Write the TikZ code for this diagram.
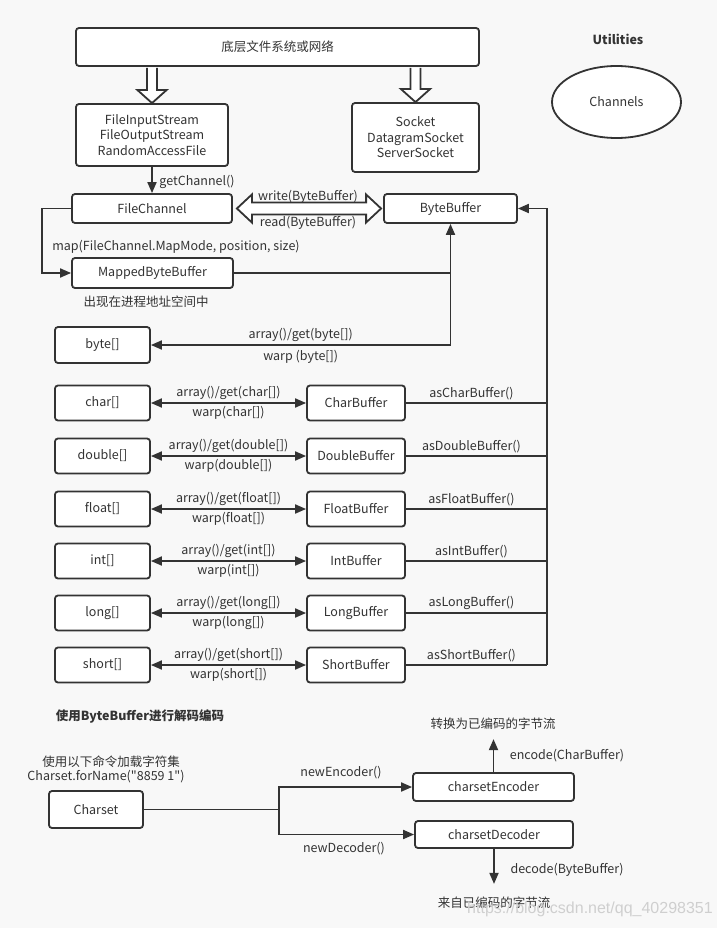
\documentclass[tikz,border=0pt]{standalone}
\usepackage{fontspec}
\setmainfont{Noto Sans CJK SC}[Ligatures=TeXOff]
\newfontfamily\wmfont{Liberation Sans}
\usetikzlibrary{arrows.meta,calc,shapes.geometric}
\definecolor{ink}{HTML}{333333}
\definecolor{bg}{HTML}{F8F8F8}
\definecolor{wmc}{HTML}{CFCFCF}
\begin{document}
\begin{tikzpicture}[x=1pt,y=-1pt,
  font=\fontsize{12.5}{15.5}\selectfont, text=ink,
  box/.style={draw=ink, line width=1.8pt, fill=white, rounded corners=3pt, align=center, inner sep=0pt},
  conn/.style={draw=ink, line width=1.8pt},
  tip/.style={-{Triangle[length=11pt,width=9pt]}},
  both/.style={{Triangle[length=11pt,width=9pt]}-{Triangle[length=11pt,width=9pt]}},
  hollow/.style={draw=ink, line width=1.8pt, fill=white, line join=miter},
  lbl/.style={inner sep=2pt},
  boldlbl/.style={font=\fontsize{12.5}{15}\selectfont\bfseries}]
\fill[bg] (0,0) rectangle (717,928);
\useasboundingbox (0,0) rectangle (717,928);

% top row
\node[box, minimum width=403pt, minimum height=38pt] (top) at (277.5,47) {底层文件系统或网络};
\node[box, minimum width=152pt, minimum height=62pt] (fis) at (152,135) {FileInputStream\\FileOutputStream\\RandomAccessFile};
\node[box, minimum width=127pt, minimum height=69pt] (sock) at (415.5,137.5) {Socket\\DatagramSocket\\ServerSocket};
\node[boldlbl] (util) at (618,39) {Utilities};
\node[draw=ink, line width=1.8pt, fill=white, ellipse, minimum width=129pt, minimum height=72pt, inner sep=0pt] (ch) at (616.5,102) {Channels};

% hollow down arrows
\path[hollow] let \p1=(fis.north), \p2=(top.south) in
  (\x1-5pt,\y2-0.9pt) -- (\x1-5pt,\y1+13pt) -- (\x1-14.5pt,\y1+13pt) -- (\x1,\y1) -- (\x1+14.5pt,\y1+13pt) -- (\x1+5pt,\y1+13pt) -- (\x1+5pt,\y2-0.9pt);
\path[hollow] let \p1=(sock.north), \p2=(top.south) in
  (\x1-5pt,\y2-0.9pt) -- (\x1-5pt,\y1+13pt) -- (\x1-14.5pt,\y1+13pt) -- (\x1,\y1) -- (\x1+14.5pt,\y1+13pt) -- (\x1+5pt,\y1+13pt) -- (\x1+5pt,\y2-0.9pt);

% channel row
\node[box, minimum width=160pt, minimum height=29pt] (fc) at (152,208.5) {FileChannel};
\node[box, minimum width=133pt, minimum height=29pt] (bb) at (450.5,208.5) {ByteBuffer};
\node[box, minimum width=161pt, minimum height=30pt] (mbb) at (152.5,273) {MappedByteBuffer};
\node[lbl] (mbbnote) at (146,302) {出现在进程地址空间中};

\draw[conn, tip] (fis.south) -- (fc.north);
\node[lbl] (gcl) at (197,182) {getChannel()};

% double hollow arrow
\path[hollow] let \p1=(fc.east), \p2=(bb.west) in
  (\x1+4pt,\y1) -- (\x1+19pt,\y1+14pt) -- (\x1+19pt,\y1+6pt) -- (\x2-17pt,\y1+6pt) -- (\x2-17pt,\y1+14pt) -- (\x2-2pt,\y1)
  -- (\x2-17pt,\y1-14pt) -- (\x2-17pt,\y1-6pt) -- (\x1+19pt,\y1-6pt) -- (\x1+19pt,\y1-14pt) -- cycle;
\node[lbl] (wr) at (308,197) {write(ByteBuffer)};
\node[lbl] (rd) at (308,223) {read(ByteBuffer)};

\draw[conn, tip] (fc.west) -- ++(-29,0) |- (mbb.west);
\node[lbl] (maplbl) at (176,247) {map(FileChannel.MapMode, position, size)};
\draw[conn] (mbb.east) -- (mbb.east -| bb.south);

% byte[]
\node[box, minimum width=95pt, minimum height=36pt] (abyte) at (102.5,345) {byte[]};
\draw[conn, both] (abyte.east) -| (bb.south)
  node[pos=0.25, above, lbl] {array()/get(byte[])}
  node[pos=0.25, below, lbl, yshift=-2pt] {warp (byte[])};

% typed buffers
\coordinate (rail) at (547,0);
\foreach \nm/\Nm/\yy in {char/Char/403, double/Double/456, float/Float/509, int/Int/561, long/Long/613, short/Short/665}{
  \node[box, minimum width=95pt, minimum height=35pt] (a\nm) at (102.5,\yy) {\nm[]};
  \node[box, minimum width=98pt, minimum height=35pt] (b\nm) at (356,\yy) {\Nm Buffer};
  \draw[conn, both] (a\nm.east) -- (b\nm.west)
    node[midway, above, lbl] {array()/get(\nm[])}
    node[midway, below, lbl] {warp(\nm[])};
  \draw[conn] (b\nm.east) -- (b\nm.east -| rail)
    node[midway, above, lbl, xshift=-5pt] {as\Nm Buffer()};
}
\draw[conn, tip] (bshort.east -| rail) |- (bb.east);

% bottom part
\node[boldlbl] (title) at (140,716) {使用ByteBuffer进行解码编码};
\node[lbl] (cs1) at (111,762) {使用以下命令加载字符集};
\node[lbl] (cs2) at (106,777) {Charset.forName("8859 1")};
\node[box, minimum width=94pt, minimum height=37pt] (cs) at (96,809.5) {Charset};
\node[box, minimum width=161pt, minimum height=28pt] (enc) at (493.5,787) {charsetEncoder};
\node[box, minimum width=158pt, minimum height=27pt] (dec) at (494,834.5) {charsetDecoder};
\coordinate (fork) at (279,809.5);
\draw[conn] (cs.east) -- (fork);
\draw[conn, tip] (fork) |- (enc.west);
\draw[conn, tip] (fork) |- (dec.west);
\node[lbl] (nel) at (341,773) {newEncoder()};
\node[lbl] (ndl) at (344,849) {newDecoder()};
\coordinate (encout) at ($(enc.north)+(0,-33)$);
\coordinate (decout) at ($(dec.south)+(0,35)$);
\draw[conn, tip] (enc.north) -- (encout);
\draw[conn, tip] (dec.south) -- (decout);
\node[lbl] (encl) at (567,756) {encode(CharBuffer)};
\node[lbl] (decl) at (567,870) {decode(ByteBuffer)};
\node[lbl] (to) at (493,724) {转换为已编码的字节流};
\node[lbl] (from) at (494,903) {来自已编码的字节流};
\node[lbl, text=wmc, font=\wmfont\fontsize{16}{18}\selectfont] (wm) at (590,909) {https://blog.csdn.net/qq\_40298351};
\end{tikzpicture}
\end{document}
